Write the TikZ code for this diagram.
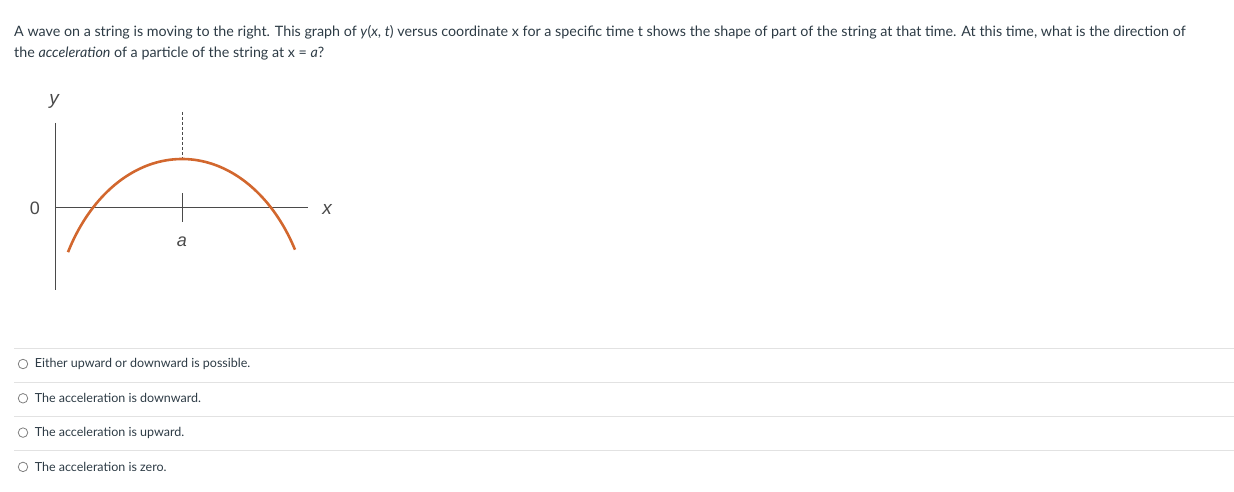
\documentclass[tikz,border=0pt]{standalone}
\usepackage{fontspec}
\setmainfont{Lato}
\newfontfamily\graphfont{Liberation Sans}
\usetikzlibrary{positioning}

\definecolor{textgray}{HTML}{2D3B45}
\definecolor{axisgray}{HTML}{4A4A4A}
\definecolor{wave}{HTML}{D2672E}
\definecolor{rule}{HTML}{E2E2E2}

\tikzset{
  question/.style={anchor=base west, inner sep=0pt, text=textgray, font=\fontsize{14.3}{17}\selectfont},
  option/.style={anchor=base west, inner sep=0pt, text=textgray, font=\fontsize{12.5}{15}\selectfont},
  radio/.style={circle, draw=gray, line width=0.8pt, minimum size=9.5pt, inner sep=0pt},
  axislabel/.style={inner sep=0pt, text=axisgray, font=\graphfont\fontsize{18}{18}\selectfont},
  axis/.style={draw=axisgray, line width=0.9pt},
}

\begin{document}
\begin{tikzpicture}[x=1pt, y=-1pt]
    \useasboundingbox (0,0) rectangle (1234,492);

    % Question
    \node[question] (q1) at (14,37) {A wave on a string is moving to the right. This graph of \textit{y}(\textit{x}, \textit{t}) versus coordinate x for a specific time t shows the shape of part of the string at that time. At this time, what is the direction of};
    \node[question] (q2) at (14,58) {the \textit{acceleration} of a particle of the string at x = \textit{a}?};

    % Axes
    \coordinate (ytop) at (55,123);
    \coordinate (ybot) at (55,290);
    \coordinate (xleft) at (55,207);
    \coordinate (xright) at (308,207);
    \coordinate (tickup) at (182,193);
    \coordinate (tickdn) at (182,222);
    \coordinate (dashtop) at (182,112);
    \coordinate (peak) at (182,159);
    \draw[axis] (ytop) -- (ybot);
    \draw[axis] (xleft) -- (xright);
    \draw[axis] (tickup) -- (tickdn);
    \draw[axis, line width=0.7pt, dash pattern=on 3pt off 2pt] (dashtop) -- (peak);

    % Labels
    \node[axislabel, font=\graphfont\itshape\fontsize{19}{19}\selectfont] (ly) at (54,101) {y};
    \node[axislabel] (l0) at (35,208) {0};
    \node[axislabel, font=\graphfont\itshape\fontsize{19}{19}\selectfont] (lx) at (327,209) {x};
    \node[axislabel, font=\graphfont\itshape\fontsize{18}{18}\selectfont] (la) at (182,242) {a};

    % Wave
    \draw[wave, line width=2.6pt] plot[domain=-114:113, samples=90, smooth]
      ({182+\x}, {159+179.4*(1-sqrt(1-(\x/130)^2))});

    % Options
    \foreach \i/\txt in {0/{Either upward or downward is possible.},
                         1/{The acceleration is downward.},
                         2/{The acceleration is upward.},
                         3/{The acceleration is zero.}} {
      \draw[rule, line width=0.8pt] (14,{348+34*\i}) -- (1234,{348+34*\i});
      \node[radio] (r\i) at (23,{364+34.3*\i}) {};
      \node[option, right=6.5pt of r\i.east, anchor=west] (o\i) {\txt};
    }
\end{tikzpicture}
\end{document}
